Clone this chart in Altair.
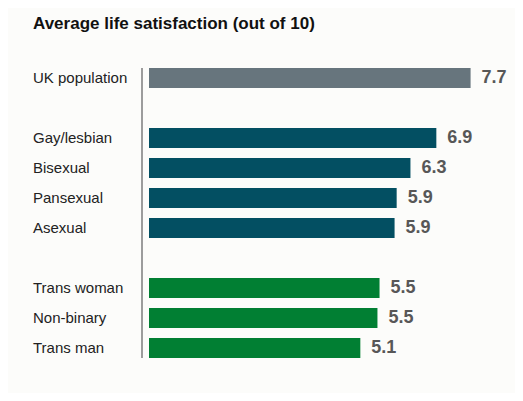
import altair as alt
import pandas as pd

# rows of the chart, top to bottom; blanks are the gaps between groups
categories = ["UK population", " ", "Gay/lesbian", "Bisexual", "Pansexual", "Asexual",
              "  ", "Trans woman", "Non-binary", "Trans man"]

groups = ["UK", "Sexuality", "Sexuality", "Sexuality", "Sexuality", "Gender", "Gender", "Gender"]
labels = ["UK population", "Gay/lesbian", "Bisexual", "Pansexual", "Asexual",
          "Trans woman", "Non-binary", "Trans man"]
scores = [7.7, 6.88, 6.26, 5.93, 5.88, 5.52, 5.47, 5.06]

group_names = ["UK", "Sexuality", "Gender"]
group_colors = ["#67757d", "#034f62", "#017f33"]

data = pd.DataFrame({"label": labels, "score": scores, "group": groups})

FONT = "Liberation Sans"

y = alt.Y(
    "label:N",
    scale=alt.Scale(domain=categories, paddingInner=1 / 3, paddingOuter=1 / 6),
    axis=None,
)

base = alt.Chart(data)

bars = base.mark_bar().encode(
    x=alt.X("score:Q", scale=alt.Scale(domain=[0, 8.5], nice=False), axis=None),
    y=y,
    color=alt.Color(
        "group:N",
        scale=alt.Scale(domain=group_names, range=group_colors),
        legend=None,
    ),
)

values = base.mark_text(
    align="left",
    baseline="middle",
    dx=11,
    font="Liberation Sans Narrow, Liberation Sans",
    fontSize=18,
    fontWeight="bold",
    color="#575757",
).encode(
    x="score:Q",
    y=y,
    text=alt.Text("score:Q", format=".1f"),
)

names = base.mark_text(
    align="left",
    baseline="middle",
    font=FONT,
    fontSize=15,
    color="#222222",
).encode(
    x=alt.value(-116),
    y=y,
    text="label:N",
)

divider = base.mark_rule(color="#9c9c9c", strokeWidth=1.5).encode(
    x=alt.value(-7),
    y=alt.value(5),
    y2=alt.value(295),
)

chart = (
    alt.layer(divider, bars, values, names)
    .properties(
        width=355,
        height=300,
        padding={"left": 141, "top": 55, "right": 11, "bottom": 30},
        autosize=alt.AutoSizeParams(type="none"),
        background="#fcfcfa",
        title=alt.TitleParams(
            "Average life satisfaction (out of 10)",
            anchor="start",
            frame="group",
            dx=-116,
            offset=17,
            baseline="alphabetic",
            font=FONT,
            fontSize=17,
            fontWeight="bold",
            color="#111111",
        ),
    )
    .configure_view(stroke=None)
)

chart.save("out.html", embed_options={"renderer": "svg", "actions": False})
